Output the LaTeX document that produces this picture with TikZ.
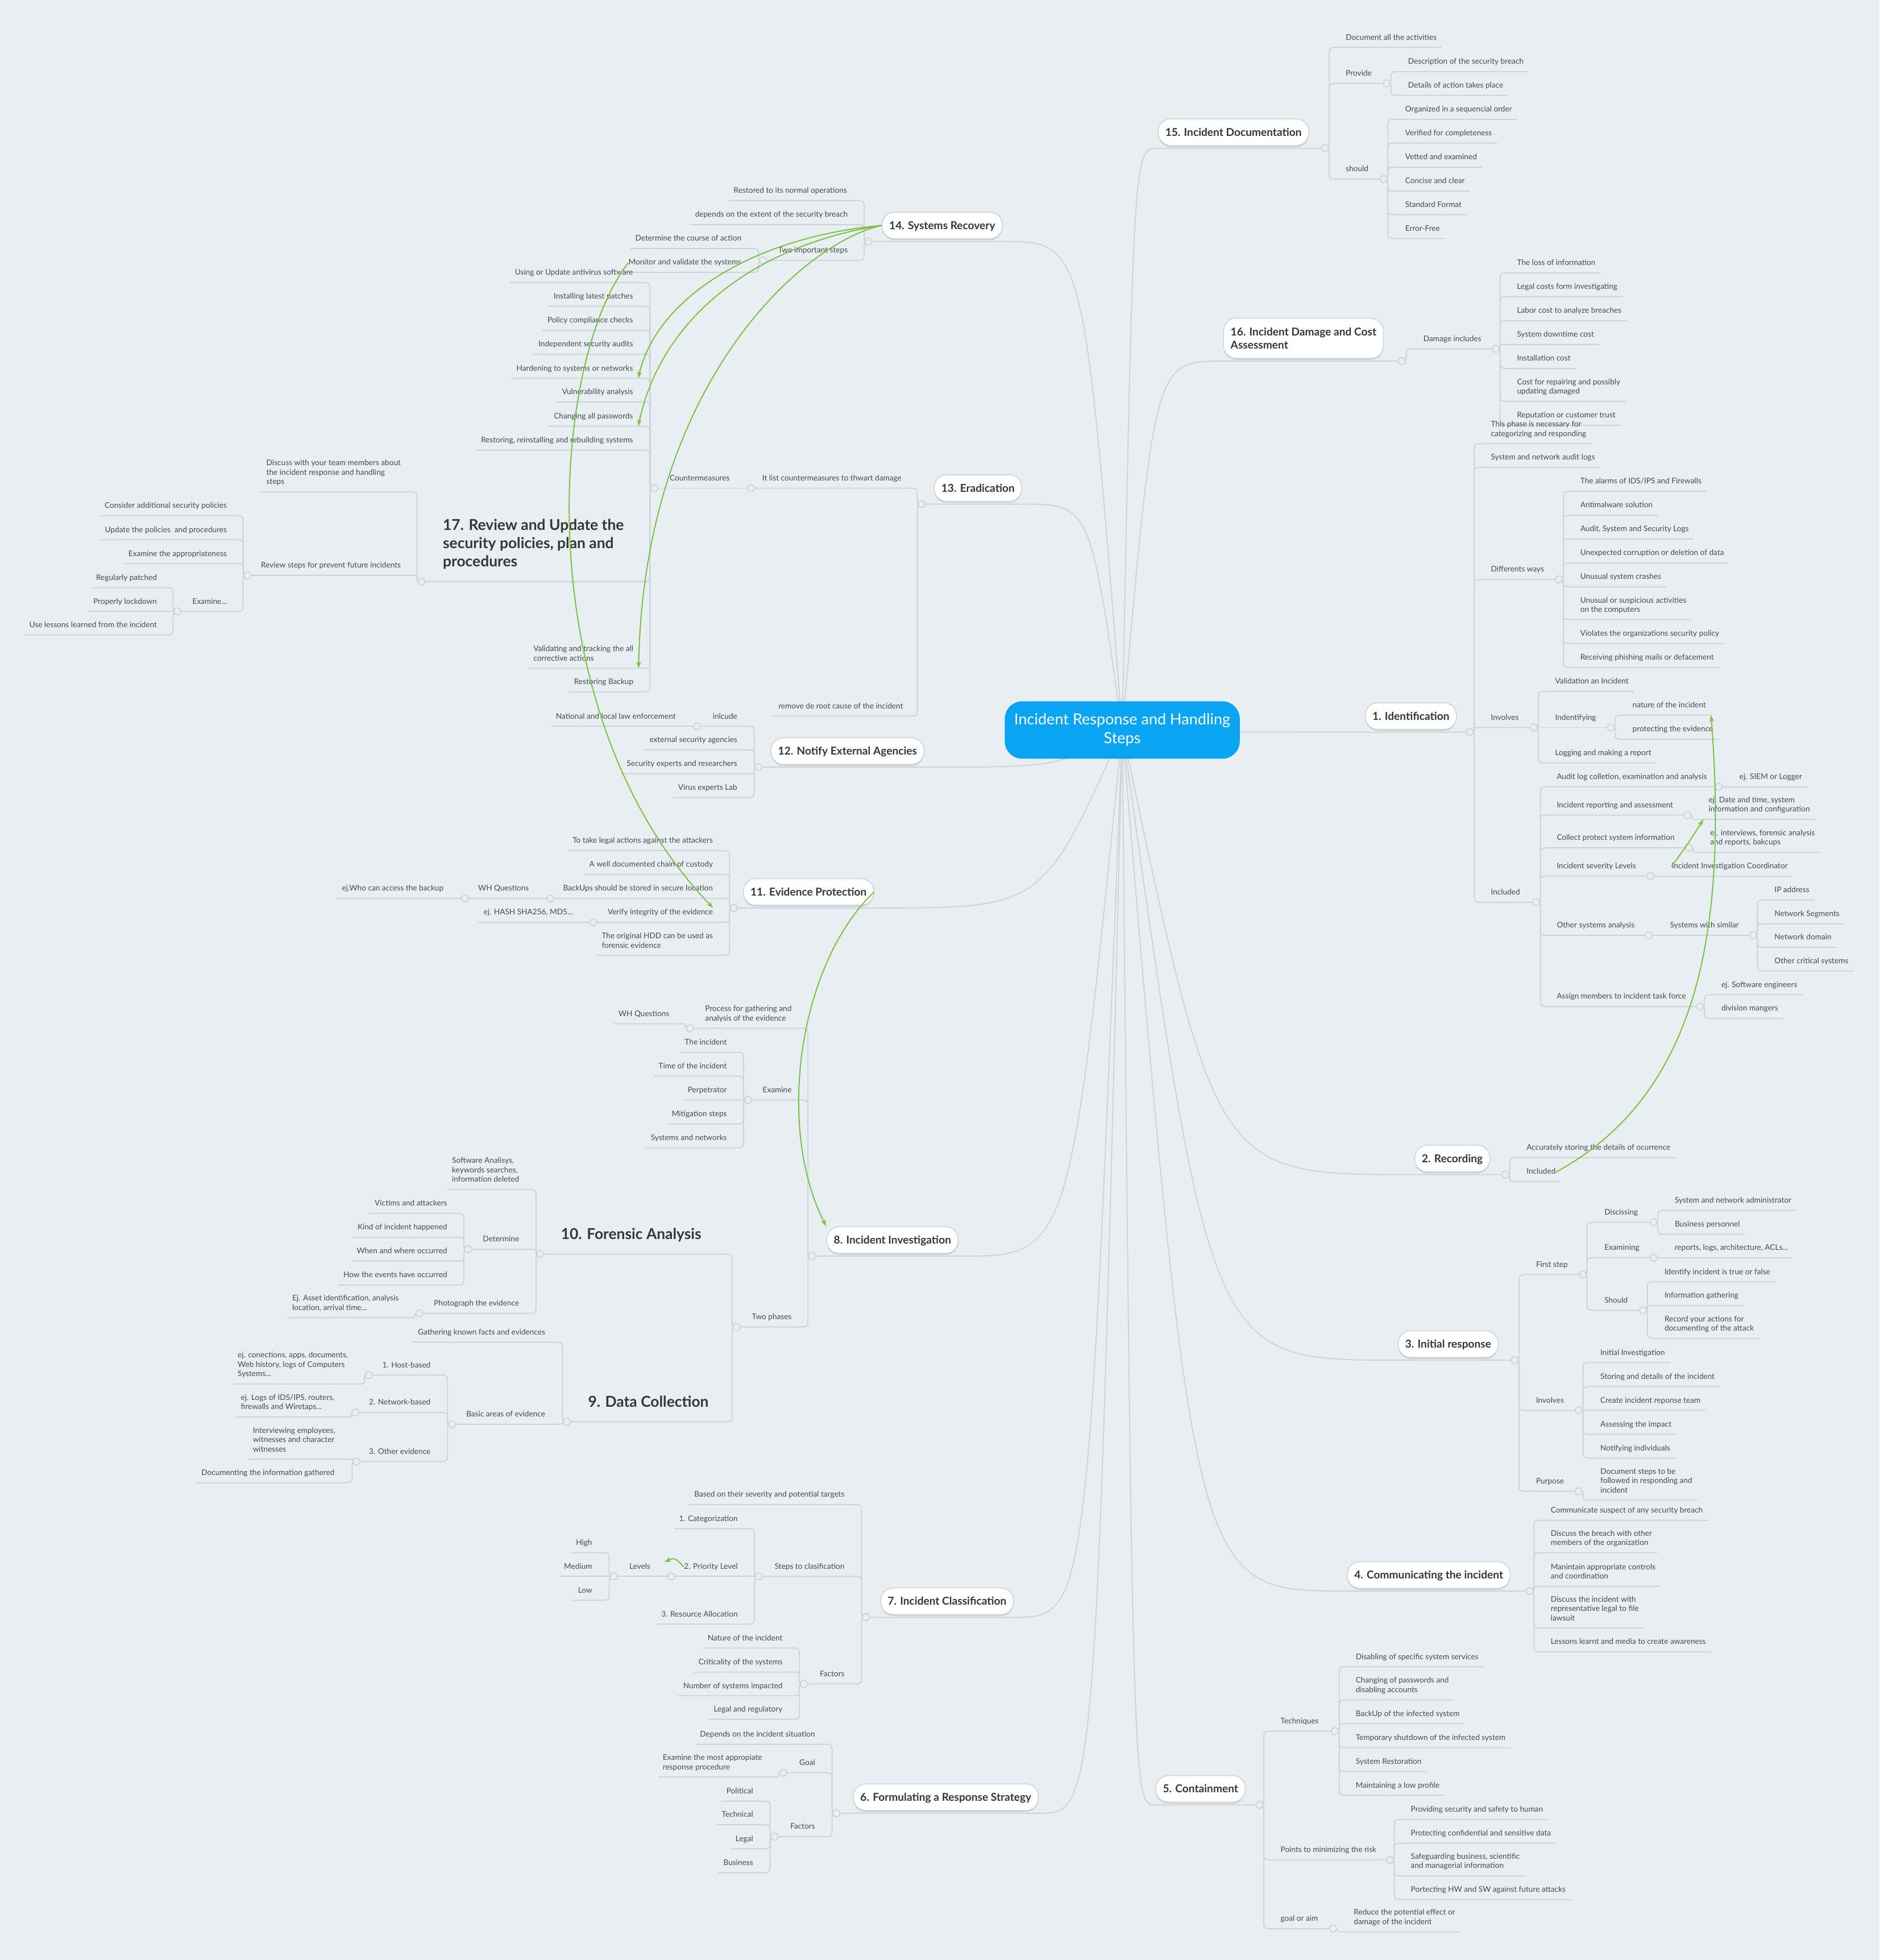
\documentclass[tikz,border=0pt]{standalone}
\usepackage{fontspec}
\setmainfont{Lato}
\usetikzlibrary{calc,arrows.meta,shadows}
\definecolor{bg}{HTML}{E8EEF1}
\definecolor{lnc}{HTML}{CDD3D7}
\definecolor{txc}{HTML}{4A4A4A}
\definecolor{ptc}{HTML}{363636}
\definecolor{pillb}{HTML}{D2D7DA}
\definecolor{cblue}{HTML}{0AA5F2}
\definecolor{grn}{HTML}{7CC242}
\pgfdeclarelayer{fg}
\pgfdeclarelayer{top}
\pgfsetlayers{main,fg,top}
\newcommand\T[1]{\begin{tabular}[b]{@{}l@{}}#1\end{tabular}}
\tikzset{
 link/.style={draw=lnc,line width=0.85pt},
 lf/.style={inner sep=0pt,font=\fontsize{6.2}{7.5}\selectfont,text=txc},
 big/.style={inner sep=0pt,font=\bfseries\fontsize{12}{14.7}\selectfont,text=ptc},
 dot/.style={circle,draw=lnc,fill=bg,line width=0.8pt,minimum size=5.6pt,inner sep=0pt},
 pill/.style={draw=pillb,fill=white,line width=0.8pt,rounded corners=10pt,inner xsep=5.7pt,inner ysep=0pt,minimum height=21.3pt,font=\bfseries\fontsize{8.7}{10.6}\selectfont,text=ptc,drop shadow={shadow xshift=0pt,shadow yshift=-1.2pt,opacity=0.12,fill=black}},
 pill1/.style={pill,text height=6.3pt,text depth=0pt},
 rel/.style={draw=grn,line width=0.9pt,-{Stealth[length=5.5pt,width=3.8pt]}},
}
\newcommand\Rt[4]{\node[lf,anchor=base west] (#1) at (#2,#3-6) {\T{#4}};\coordinate (#1u) at (#2-4,#3);\coordinate (#1v) at ($(#1.base east)+(4,6)$);}
\newcommand\Lt[4]{\node[lf,anchor=base east] (#1) at (#2,#3-6) {\T{#4}};\coordinate (#1u) at (#2+4,#3);\coordinate (#1v) at ($(#1.base west)+(-4,6)$);}
\newcommand\cir[3]{\begin{pgfonlayer}{fg}\node[dot] (#1) at (#2,#3) {};\end{pgfonlayer}}
\newcommand\RK[3]{\draw[link] let \p1=(#1),\p2=(#2u),\p3=(#3),\n1={abs(\y2-\y1)},\n2={min(5,\n1/2)},\n3={min(7,\n1/2)},\n4={(\y2>\y1)?1:-1} in (\p1) .. controls (\x1+3.5pt,\y1) .. (\x1+3.5pt,\y1+\n4*\n2*1pt) -- (\x1+3.5pt,\y2-\n4*\n3*1pt) .. controls (\x1+3.5pt,\y2) .. (\x1+11pt,\y2) -- (\x3,\y2);}
\newcommand\LK[3]{\draw[link] let \p1=(#1),\p2=(#2u),\p3=(#3),\n1={abs(\y2-\y1)},\n2={min(5,\n1/2)},\n3={min(7,\n1/2)},\n4={(\y2>\y1)?1:-1} in (\p1) .. controls (\x1-3.5pt,\y1) .. (\x1-3.5pt,\y1+\n4*\n2*1pt) -- (\x1-3.5pt,\y2-\n4*\n3*1pt) .. controls (\x1-3.5pt,\y2) .. (\x1-11pt,\y2) -- (\x3,\y2);}
\newcommand\lfR[5]{\Rt{#2}{#3}{#4}{#5}\RK{#1}{#2}{#2v}}
\newcommand\pnR[7]{\Rt{#2}{#3}{#4}{#5}\cir{#6}{#7}{#4}\RK{#1}{#2}{#6}}
\newcommand\lfL[5]{\Lt{#2}{#3}{#4}{#5}\LK{#1}{#2}{#2v}}
\newcommand\pnL[7]{\Lt{#2}{#3}{#4}{#5}\cir{#6}{#7}{#4}\LK{#1}{#2}{#6}}
\newcommand\MLR[3]{\draw[link] let \p1=(#1),\p2=($(#2.south west)+(0,1.8)$) in (\p1) .. controls ({\x1+0.32*(\x2-\x1)},\y2) .. (\p2) -- (#3);}
\newcommand\MLL[3]{\draw[link] let \p1=(#1),\p2=($(#2.south east)+(0,1.8)$) in (\p1) .. controls ({\x1+0.32*(\x2-\x1)},\y2) .. (\p2) -- (#3);}
\newcommand\pilR[3]{\begin{pgfonlayer}{fg}\node[pill1,anchor=south west] (#1) at (#2) {#3};\end{pgfonlayer}}
\newcommand\pilL[3]{\begin{pgfonlayer}{fg}\node[pill1,anchor=south east] (#1) at (#2) {#3};\end{pgfonlayer}}
\begin{document}
\begin{tikzpicture}[x=1pt,y=-1pt]
\useasboundingbox (0,0) rectangle (1504,1568);
\fill[bg] (0,0) rectangle (1504,1568);
\begin{pgfonlayer}{fg}
\node[fill=cblue,rounded corners=14pt,minimum width=188pt,minimum height=46pt,text=white,font=\fontsize{12.3}{15}\selectfont,align=center,inner sep=0pt] (C) at (898,584) {Incident Response and Handling\\Steps};
\end{pgfonlayer}
% ---------- 15
\pilR{b15}{926.3,116.8}{15. Incident Documentation}
\cir{c15}{1060.1}{118.6}
\MLR{C}{b15}{c15}
\lfR{c15}{a1}{1076.7}{37.9}{Document all the activities}
\pnR{c15}{a2}{1076.7}{66.7}{Provide}{c15a}{1109.5}
\lfR{c15a}{a3}{1126.5}{57.3}{Description of the security breach}
\lfR{c15a}{a4}{1126.5}{76.3}{Details of action takes place}
\pnR{c15}{a5}{1076.7}{143.3}{should}{c15b}{1107}
\lfR{c15b}{a6}{1124.2}{95.5}{Organized in a sequencial order}
\lfR{c15b}{a7}{1124.2}{114.5}{Verified for completeness}
\lfR{c15b}{a8}{1124.2}{133.8}{Vetted and examined}
\lfR{c15b}{a9}{1124.2}{152.9}{Concise and clear}
\lfR{c15b}{a10}{1124.2}{171.8}{Standard Format}
\lfR{c15b}{a11}{1124.2}{190.8}{Error-Free}
% ---------- 16
\begin{pgfonlayer}{fg}\node[pill,anchor=south west,minimum height=32.1pt,align=left] (b16) at (978.6,287.1) {16. Incident Damage and Cost\\Assessment};\end{pgfonlayer}
\cir{c16}{1121.8}{288.9}
\MLR{C}{b16}{c16}
\pnR{c16}{g1}{1138.8}{279}{Damage includes}{c16a}{1196.8}
\lfR{c16a}{g2}{1213.7}{218.4}{The loss of information}
\lfR{c16a}{g3}{1213.7}{237.3}{Legal costs form investigating}
\lfR{c16a}{g4}{1213.7}{256.6}{Labor cost to analyze breaches}
\lfR{c16a}{g5}{1213.7}{275.6}{System downtime cost}
\lfR{c16a}{g6}{1213.7}{294.8}{Installation cost}
\lfR{c16a}{g7}{1213.7}{321.1}{Cost for repairing and possibly\\updating damaged}
\lfR{c16a}{g8}{1213.7}{340.2}{Reputation or customer trust}
% ---------- 1
\pilR{b1}{1092,583.9}{1. Identification}
\cir{c1}{1176.1}{585.7}
\MLR{C}{b1}{c1}
\lfR{c1}{i1}{1192.8}{354.9}{This phase is necessary for\\categorizing and responding}
\lfR{c1}{i2}{1192.8}{373.9}{System and network audit logs}
\pnR{c1}{i3}{1192.8}{463.6}{Differents ways}{c1a}{1247.4}
\lfR{c1a}{i4}{1264.3}{393}{The alarms of IDS/IPS and Firewalls}
\lfR{c1a}{i5}{1264.3}{412.2}{Antimalware solution}
\lfR{c1a}{i6}{1264.3}{431.2}{Audit, System and Security Logs}
\lfR{c1a}{i7}{1264.3}{450.4}{Unexpected corruption or deletion of data}
\lfR{c1a}{i8}{1264.3}{469.4}{Unusual system crashes}
\lfR{c1a}{i9}{1264.3}{495.7}{Unusual or suspicious activities\\on the computers}
\lfR{c1a}{i10}{1264.3}{514.8}{Violates the organizations security policy}
\lfR{c1a}{i11}{1264.3}{533.9}{Receiving phishing mails or defacement}
\pnR{c1}{i12}{1192.8}{582}{Involves}{c1b}{1227.3}
\lfR{c1b}{i13}{1244.2}{553.1}{Validation an Incident}
\pnR{c1b}{i14}{1244.2}{582}{Indentifying}{c1c}{1289.1}
\lfR{c1c}{i15}{1306.1}{572.1}{nature of the incident}
\lfR{c1c}{i16}{1306.1}{591.4}{protecting the evidence}
\lfR{c1b}{i17}{1244.2}{610.3}{Logging and making a report}
\pnR{c1}{i18}{1192.8}{721.9}{Included}{c1d}{1229.1}
\pnR{c1d}{i19}{1245.5}{629.4}{Audit log colletion, examination and analysis}{c1e}{1375.3}
\lfR{c1e}{i20}{1391.7}{629.4}{ej. SIEM or Logger}
\pnR{c1d}{i21}{1245.5}{652.1}{Incident reporting and assessment}{c1f}{1350.3}
\lfR{c1f}{i22}{1367}{655.5}{ej. Date and time, system\\information and configuration}
\pnR{c1d}{i23}{1245.5}{678.2}{Collect protect system information}{c1g}{1351.3}
\lfR{c1g}{i24}{1368.3}{681.9}{ej. interviews, forensic analysis\\and reports, bakcups}
\pnR{c1d}{i25}{1245.5}{700.8}{Incident severity Levels}{c1h}{1320.5}
\lfR{c1h}{i26}{1337.4}{700.8}{Incident Investigation Coordinator}
\pnR{c1d}{i27}{1245.5}{748.3}{Other systems analysis}{c1i}{1319.2}
\pnR{c1i}{i28}{1336.1}{748.3}{Systems with similar}{c1j}{1402.7}
\lfR{c1j}{i29}{1419.7}{720}{IP address}
\lfR{c1j}{i30}{1419.7}{739}{Network Segments}
\lfR{c1j}{i31}{1419.7}{757.9}{Network domain}
\lfR{c1j}{i32}{1419.7}{776.8}{Other critical systems}
\pnR{c1d}{i33}{1245.5}{805.2}{Assign members to incident task force}{c1k}{1360.4}
\lfR{c1k}{i34}{1377.2}{795.8}{ej. Software engineers}
\lfR{c1k}{i35}{1377.2}{814.7}{division mangers}
% ---------- 2
\pilR{b2}{1131.6,937.9}{2. Recording}
\cir{c2}{1204.6}{939.7}
\MLR{C}{b2}{c2}
\lfR{c2}{r1}{1221.3}{926.1}{Accurately storing the details of ocurrence}
\lfR{c2}{r2}{1221.3}{945.2}{Included}
% ---------- 3
\pilR{b3}{1118.3,1086.3}{3. Initial response}
\cir{c3}{1212.1}{1088.1}
\MLR{C}{b3}{c3}
\pnR{c3}{p1}{1228.9}{1019.6}{First step}{c3a}{1266.4}
\pnR{c3a}{p2}{1283.6}{977.8}{Discissing}{c3b}{1323.1}
\lfR{c3b}{p3}{1339.9}{968.2}{System and network administrator}
\lfR{c3b}{p4}{1339.9}{987.4}{Business personnel}
\pnR{c3a}{p5}{1283.6}{1006.1}{Examining}{c3c}{1323.3}
\lfR{c3c}{p6}{1339.9}{1006.1}{reports, logs, architecture, ACLs...}
\pnR{c3a}{p7}{1283.6}{1048.2}{Should}{c3d}{1314.7}
\lfR{c3d}{p8}{1331.7}{1025.5}{Identify incident is true or false}
\lfR{c3d}{p9}{1331.7}{1044.4}{Information gathering}
\lfR{c3d}{p10}{1331.7}{1070.7}{Record your actions for\\documenting of the attack}
\pnR{c3}{p11}{1228.9}{1128.3}{Involves}{c3e}{1263.2}
\lfR{c3e}{p12}{1280.4}{1090}{Initial Investigation}
\lfR{c3e}{p13}{1280.4}{1109.2}{Storing and details of the incident}
\lfR{c3e}{p14}{1280.4}{1128.3}{Create incident reponse team}
\lfR{c3e}{p15}{1280.4}{1147.5}{Assessing the impact}
\lfR{c3e}{p16}{1280.4}{1166.6}{Notifying individuals}
\pnR{c3}{p17}{1228.9}{1193}{Purpose}{c3f}{1263.2}
\lfR{c3f}{p18}{1280.4}{1200.1}{Document steps to be\\followed in responding and\\incident}
% ---------- 4
\pilR{b4}{1077.6,1271}{4. Communicating the incident}
\cir{c4}{1223.9}{1272.8}
\MLR{C}{b4}{c4}
\lfR{c4}{q1}{1240.7}{1216.2}{Communicate suspect of any security breach}
\lfR{c4}{q2}{1240.7}{1242.2}{Discuss the breach with other\\members of the organization}
\lfR{c4}{q3}{1240.7}{1269}{Manintain appropriate controls\\and coordination}
\lfR{c4}{q4}{1240.7}{1302.5}{Discuss the incident with\\representative legal to file\\lawsuit}
\lfR{c4}{q5}{1240.7}{1321.5}{Lessons learnt and media to create awareness}
% ---------- 5
\pilR{b5}{924.4,1442.1}{5. Containment}
\cir{c5}{1007.7}{1443.9}
\MLR{C}{b5}{c5}
\pnR{c5}{t1}{1024.5}{1384.9}{Techniques}{c5a}{1068.1}
\lfR{c5a}{t2}{1084.6}{1333.4}{Disabling of specific system services}
\lfR{c5a}{t3}{1084.6}{1359.9}{Changing of passwords and\\disabling accounts}
\lfR{c5a}{t4}{1084.6}{1378.9}{BackUp of the infected system}
\lfR{c5a}{t5}{1084.6}{1398.2}{Temporary shutdown of the infected system}
\lfR{c5a}{t6}{1084.6}{1417.2}{System Restoration}
\lfR{c5a}{t7}{1084.6}{1436.2}{Maintaining a low profile}
\pnR{c5}{t8}{1024.5}{1487.8}{Points to minimizing the risk}{c5b}{1112.1}
\lfR{c5b}{t9}{1128.7}{1455.5}{Providing security and safety to human}
\lfR{c5b}{t10}{1128.7}{1474.5}{Protecting confidential and sensitive data}
\lfR{c5b}{t11}{1128.7}{1500.7}{Safeguarding business, scientific\\and managerial information}
\lfR{c5b}{t12}{1128.7}{1519.7}{Portecting HW and SW against future attacks}
\pnR{c5}{t13}{1024.5}{1542.9}{goal or aim}{c5c}{1066.6}
\lfR{c5c}{t14}{1083.1}{1545.5}{Reduce the potential effect or\\damage of the incident}
% ---------- 14
\pilL{b14}{802.4,191.4}{14. Systems Recovery}
\cir{c14}{695}{193.2}
\MLL{C}{b14}{c14}
\lfL{c14}{s1}{677.9}{160.4}{Restored to its normal operations}
\lfL{c14}{s2}{678.5}{179.6}{depends on the extent of the security breach}
\pnL{c14}{s3}{678.5}{208.2}{Two important steps}{c14a}{610.5}
\lfL{c14a}{s4}{593.4}{198.8}{Determine the course of action}
\lfL{c14a}{s5}{593.4}{217.9}{Monitor and validate the systems}
% ---------- 13
\pilL{b13}{818,401.5}{13. Eradication}
\cir{c13}{737.5}{403.3}
\MLL{C}{b13}{c13}
\pnL{c13}{e1}{721.5}{390.5}{It list countermeasures to thwart damage}{c13a}{600.9}
\pnL{c13a}{e2}{584}{390.5}{Countermeasures}{c13b}{523.6}
\lfL{c13b}{m1}{506.7}{226.1}{Using or Update antivirus software}
\lfL{c13b}{m2}{506.7}{245}{Installing latest patches}
\lfL{c13b}{m3}{506.7}{264.3}{Policy compliance checks}
\lfL{c13b}{m4}{506.7}{283.4}{Independent security audits}
\lfL{c13b}{m5}{506.7}{302.6}{Hardening to systems or networks}
\lfL{c13b}{m6}{506.7}{321.6}{Vulnerability analysis}
\lfL{c13b}{m7}{506.7}{340.9}{Changing all passwords}
\lfL{c13b}{m8}{506.7}{360.1}{Restoring, reinstalling and rebuilding systems}
\node[big,anchor=base west] (n17) at (354.2,453.4) {\T{17. Review and Update the\\security policies, plan and\\procedures}};
\coordinate (n17u) at ($(n17.base east)+(0,11.9)$);
\cir{c17}{337.2}{465.3}
\LK{c13b}{n17}{c17}
\lfL{c13b}{m9}{507}{534.6}{Validating and tracking the all\\corrective actions}
\lfL{c13b}{m10}{507}{553.5}{Restoring Backup}
\lfL{c17}{w1}{320.9}{393.5}{Discuss with your team members about\\the incident response and handling\\steps}
\pnL{c17}{w2}{320.9}{460.3}{Review steps for prevent future incidents}{c17a}{198}
\lfL{c17a}{w3}{181.7}{412.6}{Consider additional security policies}
\lfL{c17a}{w4}{181.7}{431.8}{Update the policies\ \ and procedures}
\lfL{c17a}{w5}{181.7}{450.9}{Examine the appropriateness}
\pnL{c17a}{w6}{181.7}{489.1}{Examine...}{c17b}{142}
\lfL{c17b}{w7}{125.7}{470.1}{Regularly patched}
\lfL{c17b}{w8}{125.7}{489.1}{Properly lockdown}
\lfL{c17b}{w9}{125.7}{508}{Use lessons learned from the incident}
\lfL{c13}{e3}{722.8}{572.8}{remove de root cause of the incident}
% ---------- 12
\pilL{b12}{739.8,611.9}{12. Notify External Agencies}
\cir{c12}{607}{613.7}
\MLL{C}{b12}{c12}
\pnL{c12}{x1}{590.1}{581}{inlcude}{c12a}{557.8}
\lfL{c12a}{x2}{540.9}{581}{National and local law enforcement}
\lfL{c12}{x3}{590.1}{599.9}{external security agencies}
\lfL{c12}{x4}{590.1}{619}{Security experts and researchers}
\lfL{c12}{x5}{590.1}{638.1}{Virus experts Lab}
% ---------- 11
\pilL{b11}{699.5,724.6}{11. Evidence Protection}
\cir{c11}{587.2}{726.4}
\MLL{C}{b11}{c11}
\lfL{c11}{v1}{570.6}{680.5}{To take legal actions against the attackers}
\lfL{c11}{v2}{570.6}{699.6}{A well documented chain of custody}
\pnL{c11}{v3}{570.6}{718.8}{BackUps should be stored in secure location}{c11a}{440.4}
\pnL{c11a}{v4}{423.4}{718.8}{WH Questions}{c11b}{372.1}
\lfL{c11b}{v5}{355.1}{718.8}{ej.Who can access the backup}
\pnL{c11}{v6}{570.6}{737.8}{Verify integrity of the evidence}{c11c}{474.8}
\lfL{c11c}{v7}{458.6}{737.8}{ej. HASH SHA256, MD5...}
\lfL{c11}{v8}{570.6}{764.3}{The original HDD can be used as\\forensic evidence}
% ---------- 8
\pilL{b8}{767.1,1003.1}{8. Incident Investigation}
\cir{c8}{650}{1004.9}
\MLL{C}{b8}{c8}
\pnL{c8}{h1}{633.6}{822.6}{Process for gathering and\\analysis of the evidence}{c8a}{552}
\lfL{c8a}{h2}{535.7}{819}{WH Questions}
\pnL{c8}{h3}{633.6}{879.9}{Examine}{c8b}{598.5}
\lfL{c8b}{h4}{581.8}{841.8}{The incident}
\lfL{c8b}{h5}{581.8}{860.9}{Time of the incident}
\lfL{c8b}{h6}{581.8}{880.1}{Perpetrator}
\lfL{c8b}{h7}{581.8}{899.2}{Mitigation steps}
\lfL{c8b}{h8}{581.8}{918.2}{Systems and networks}
\pnL{c8}{h9}{633.6}{1061.5}{Two phases}{c8c}{589.4}
\node[big,anchor=base west] (n10) at (448.7,991.5) {\T{10. Forensic Analysis}};
\coordinate (n10u) at ($(n10.base east)+(0,11.7)$);
\cir{c10}{432.4}{1003.2}
\LK{c8c}{n10}{c10}
\lfL{c10}{f1}{415.6}{951.5}{Software Analisys,\\keywords searches,\\information deleted}
\pnL{c10}{f2}{415.6}{999.4}{Determine}{c10a}{374.7}
\lfL{c10a}{f3}{358}{970.6}{Victims and attackers}
\lfL{c10a}{f4}{358}{989.8}{Kind of incident happened}
\lfL{c10a}{f5}{358}{1008.9}{When and where occurred}
\lfL{c10a}{f6}{358}{1028.1}{How the events have occurred}
\pnL{c10}{f7}{415.6}{1050.7}{Photograph the evidence}{c10b}{335.5}
\lfL{c10b}{f8}{319.2}{1054.2}{Ej. Asset identification, analysis\\location, arrival time...}
\node[big,anchor=base west] (n9) at (470.4,1125.6) {\T{9. Data Collection}};
\coordinate (n9u) at ($(n9.base east)+(0,11.8)$);
\cir{c9}{453.5}{1137.4}
\LK{c8c}{n9}{c9}
\lfL{c9}{k1}{436.4}{1073.7}{Gathering known facts and evidences}
\pnL{c9}{k2}{436.4}{1139.4}{Basic areas of evidence}{c9a}{361.6}
\pnL{c9a}{k3}{344.7}{1100}{1. Host-based}{c9b}{295.1}
\lfL{c9b}{k4}{278.6}{1107.2}{ej. conections, apps, documents,\\Web history, logs of Computers\\Systems...}
\pnL{c9a}{k5}{344.7}{1130}{2. Network-based}{c9c}{284.4}
\lfL{c9c}{k6}{267.8}{1133.6}{ej. Logs of IDS/IPS, routers,\\firewalls and Wiretaps...}
\pnL{c9a}{k7}{344.7}{1169.2}{3. Other evidence}{c9d}{285.3}
\lfL{c9d}{k8}{268.4}{1167.4}{Interviewing employees,\\witnesses and character\\witnesses}
\lfL{c9d}{k9}{267.8}{1186.2}{Documenting the information gathered}
% ---------- 7
\pilL{b7}{811.4,1292}{7. Incident Classification}
\cir{c7}{692.9}{1293.8}
\MLL{C}{b7}{c7}
\lfL{c7}{y1}{675.9}{1203.6}{Based on their severity and potential targets}
\pnL{c7}{y2}{675.9}{1261.1}{Steps to clasification}{c7a}{607.2}
\lfL{c7a}{y3}{590.5}{1222.9}{1. Categorization}
\pnL{c7a}{y4}{590.5}{1261.1}{2. Priority Level}{c7b}{537.2}
\pnL{c7b}{y5}{520.5}{1261.1}{Levels}{c7c}{491}
\lfL{c7c}{y6}{474}{1242}{High}
\lfL{c7c}{y7}{474}{1261.1}{Medium}
\lfL{c7c}{y8}{474}{1280.2}{Low}
\lfL{c7a}{y9}{590.5}{1299.3}{3. Resource Allocation}
\pnL{c7}{y10}{675.9}{1347}{Factors}{c7d}{643.2}
\lfL{c7d}{y11}{626.3}{1318.4}{Nature of the incident}
\lfL{c7d}{y12}{626.3}{1337.7}{Criticality of the systems}
\lfL{c7d}{y13}{626.3}{1356.6}{Number of systems impacted}
\lfL{c7d}{y14}{626.3}{1375.4}{Legal and regulatory}
% ---------- 6
\pilL{b6}{831.3,1448.8}{6. Formulating a Response Strategy}
\cir{c6}{669.3}{1450.6}
\MLL{C}{b6}{c6}
\lfL{c6}{z1}{652.4}{1395.4}{Depends on the incident situation}
\pnL{c6}{z2}{652.4}{1418.1}{Goal}{c6a}{626.8}
\lfL{c6a}{z3}{610}{1421.6}{Examine the most appropiate\\response procedure}
\pnL{c6}{z4}{652.4}{1469.3}{Factors}{c6b}{619.7}
\lfL{c6b}{z5}{602.8}{1440.9}{Political}
\lfL{c6b}{z6}{602.8}{1459.8}{Technical}
\lfL{c6b}{z7}{602.8}{1479}{Legal}
\lfL{c6b}{z8}{602.8}{1498.1}{Business}
% ---------- relationships
\begin{pgfonlayer}{top}
\draw[rel] (b14.west) .. controls (600,190) and (525,240) .. (m5u);
\draw[rel] (b14.west) .. controls (610,195) and (530,250) .. (m7u);
\draw[rel] (b14.west) .. controls (640,195) and (515,310) .. (m9u);
\draw[rel] (s5.west) .. controls (440,290) and (420,570) .. (v6.north east);
\draw[rel] (b11.east) .. controls (640,770) and (620,900) .. (b8.north west);
\draw[rel] (r2.east) .. controls (1370,870) and (1380,720) .. (i15v);
\draw[rel] (i26.west) .. controls (1350,676) .. (i22u);
\draw[rel] (y4.west) .. controls (540,1246) .. ($(y5.east)+(11,-4)$);
\end{pgfonlayer}
\end{tikzpicture}
\end{document}
